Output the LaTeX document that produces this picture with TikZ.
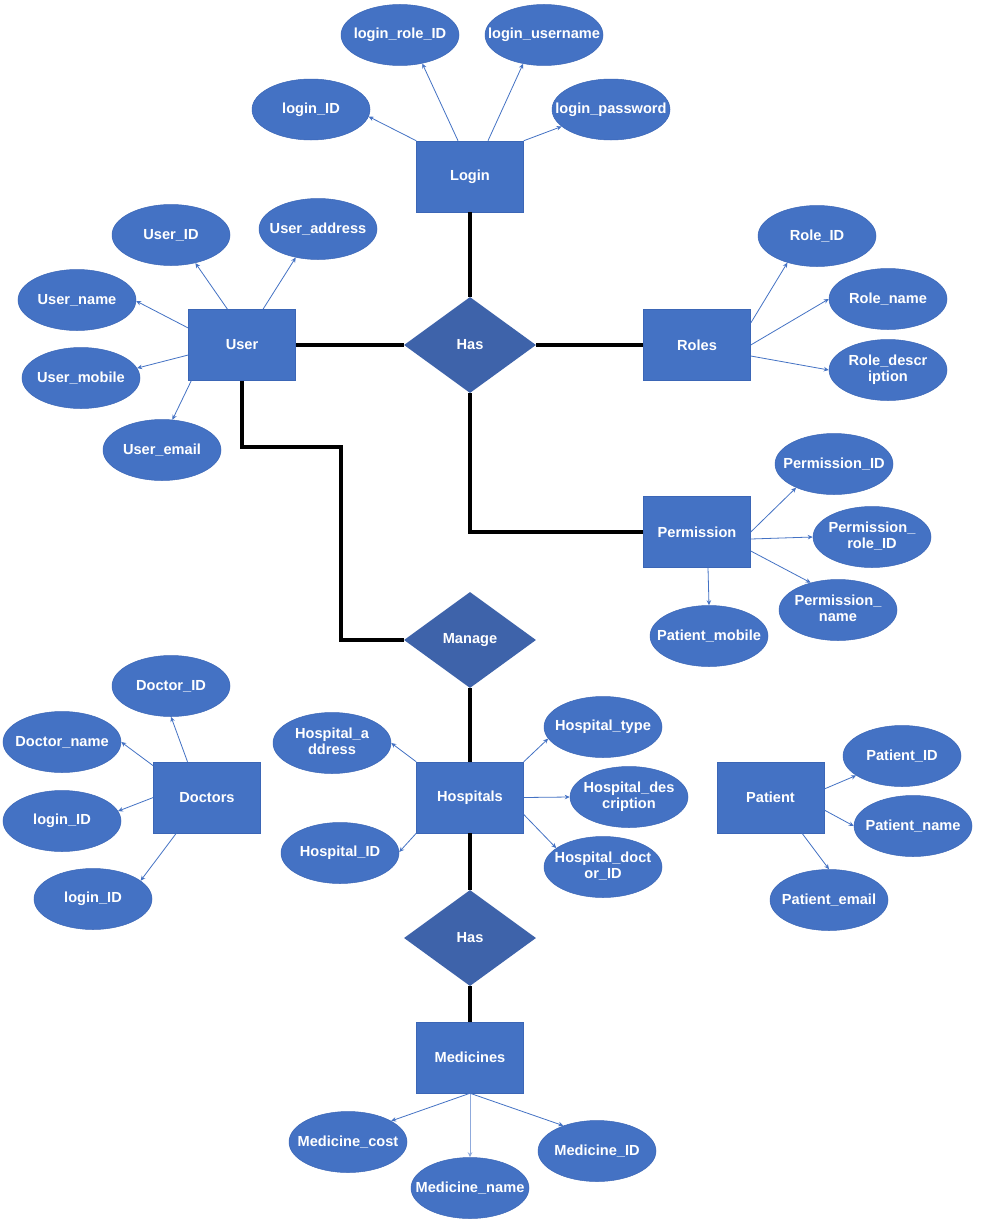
\documentclass[tikz,border=0pt]{standalone}
\usepackage{fontspec}
\setmainfont{Liberation Sans}
\usetikzlibrary{shapes.geometric,arrows.meta}
\definecolor{entcol}{HTML}{4472C4}
\definecolor{relcol}{HTML}{3E63AA}
\definecolor{edgecol}{HTML}{3B66B6}
\newcommand{\oneline}[1]{\makebox[0pt]{#1}}
\newcommand{\twolines}[2]{\makebox[0pt]{\begin{tabular}{@{}c@{}}#1\\#2\end{tabular}}}
\begin{document}
\begin{tikzpicture}[x=1pt,y=-1pt,
  lbl/.style={text=white, font=\bfseries\fontsize{14.6}{16.5}\selectfont},
  entity/.style={lbl, rectangle, fill=entcol, draw=edgecol, line width=0.5pt, minimum width=107pt, minimum height=71pt, inner sep=0pt},
  attr/.style={lbl, ellipse, fill=entcol, draw=edgecol, line width=0.5pt, minimum width=118pt, minimum height=61pt, inner sep=0pt},
  relation/.style={lbl, diamond, fill=relcol, minimum width=132pt, minimum height=96pt, inner sep=0pt},
  link/.style={line width=3.5pt, black},
  attrline/.style={draw=entcol, line width=0.8pt, -{Stealth[length=5pt,width=4.5pt]}}
]
\useasboundingbox[fill=white] (0,0) rectangle (980,1223);

% entities
\node[entity] (login) at (470,176.5) {Login};
\node[entity] (user) at (242,345) {User};
\node[entity] (roles) at (697,345) {Roles};
\node[entity] (perm) at (697,532) {Permission};
\node[entity] (doc) at (207,797.5) {Doctors};
\node[entity] (hosp) at (470,797.5) {Hospitals};
\node[entity] (pat) at (770.5,797.5) {Patient};
\node[entity] (med) at (470,1057.5) {Medicines};

% relations
\node[relation] (has1) at (470,345) {Has};
\node[relation] (manage) at (470,640) {Manage};
\node[relation] (has2) at (470,938) {Has};

% attributes: login
\node[attr] (lid) at (311,109.5) {\oneline{login\_ID}};
\node[attr] (lrole) at (400,35) {\oneline{login\_role\_ID}};
\node[attr] (luser) at (544,35) {\oneline{login\_username}};
\node[attr] (lpass) at (611,109.5) {\oneline{login\_password}};
% user
\node[attr] (uid) at (171,235) {\oneline{User\_ID}};
\node[attr] (uaddr) at (318,229) {\oneline{User\_address}};
\node[attr] (uname) at (77,300) {\oneline{User\_name}};
\node[attr] (umob) at (81,378) {\oneline{User\_mobile}};
\node[attr] (uemail) at (162,450) {\oneline{User\_email}};
% roles
\node[attr] (rid) at (817,236) {\oneline{Role\_ID}};
\node[attr] (rname) at (888,299) {\oneline{Role\_name}};
\node[attr] (rdesc) at (888,370) {\twolines{Role\_descr}{iption}};
% permission
\node[attr] (pid) at (834,464) {\oneline{Permission\_ID}};
\node[attr] (prid) at (872,537) {\twolines{Permission\_}{role\_ID}};
\node[attr] (pname) at (838,610) {\twolines{Permission\_}{name}};
\node[attr] (pmob) at (709,636) {\oneline{Patient\_mobile}};
% doctors
\node[attr] (did) at (171,686) {\oneline{Doctor\_ID}};
\node[attr] (dname) at (62,742) {\oneline{Doctor\_name}};
\node[attr] (dl1) at (62,821) {\oneline{login\_ID}};
\node[attr] (dl2) at (93,899) {\oneline{login\_ID}};
% hospitals
\node[attr] (haddr) at (332,743) {\twolines{Hospital\_a}{ddress}};
\node[attr] (hid) at (340,853) {\oneline{Hospital\_ID}};
\node[attr] (htype) at (603,727) {\oneline{Hospital\_type}};
\node[attr] (hdesc) at (629,797) {\twolines{Hospital\_des}{cription}};
\node[attr] (hdoc) at (603,867) {\twolines{Hospital\_doct}{or\_ID}};
% patient
\node[attr] (ptid) at (902,756) {\oneline{Patient\_ID}};
\node[attr] (ptname) at (913,826) {\oneline{Patient\_name}};
\node[attr] (ptemail) at (829,900) {\oneline{Patient\_email}};
% medicines
\node[attr] (mcost) at (348,1142) {\oneline{Medicine\_cost}};
\node[attr] (mname) at (470,1188) {\oneline{Medicine\_name}};
\node[attr] (mid) at (597,1151) {\oneline{Medicine\_ID}};

% relationship links
\coordinate (bend) at (341,447);
\draw[link] (login.south) -- (has1.north);
\draw[link] (user.east) -- (has1.west);
\draw[link] (has1.east) -- (roles.west);
\draw[link] (has1.south) |- (perm.west);
\draw[link] (user.south) |- (bend) |- (manage.west);
\draw[link] (manage.south) -- (hosp.north);
\draw[link] (hosp.south) -- (has2.north);
\draw[link] (has2.south) -- (med.north);

% attribute arrows
\draw[attrline] (login.north west) -- (lid.-7);
\draw[attrline] ([xshift=-12pt]login.north) -- (lrole.-52);
\draw[attrline] ([xshift=18pt]login.north) -- (luser.-126);
\draw[attrline] (login.north east) -- (lpass.199);

\draw[attrline] ([xshift=-14.5pt]user.north) -- (uid.-49);
\draw[attrline] ([xshift=21pt]user.north) -- (uaddr.232);
\draw[attrline] ([yshift=17pt]user.west) -- (uname.-1);
\draw[attrline] ([yshift=-10pt]user.west) -- (umob.10);
\draw[attrline] ([xshift=3pt]user.south west) -- (uemail.71);

\draw[attrline] ([yshift=22pt]roles.east) -- (rid.222);
\draw[attrline] (roles.east) -- (rname.180);
\draw[attrline] ([yshift=-11pt]roles.east) -- (rdesc.180);

\draw[attrline] (perm.east) -- (pid.212);
\draw[attrline] ([yshift=-7pt]perm.east) -- (prid.180);
\draw[attrline] ([yshift=-19pt]perm.east) -- (pname.135);
\draw[attrline] ([xshift=11pt]perm.south) -- (pmob.90);

\draw[attrline] ([xshift=-19.5pt]doc.north) -- (did.-90);
\draw[attrline] ([yshift=-4pt]doc.north west) -- (dname.0);
\draw[attrline] (doc.west) -- (dl1.10);
\draw[attrline] ([xshift=23pt]doc.south west) -- (dl2.21);

\draw[attrline] (hosp.north west) -- (haddr.0);
\draw[attrline] (hosp.south west) -- (hid.1);
\draw[attrline] (hosp.north east) -- (htype.192);
\draw[attrline] (hosp.east) -- (hdesc.180);
\draw[attrline] ([yshift=-17pt]hosp.east) -- (hdoc.158);

\draw[attrline] ([yshift=8.5pt]pat.east) -- (ptid.203);
\draw[attrline] ([yshift=-12.5pt]pat.east) -- (ptname.180);
\draw[attrline] ([xshift=31.5pt]pat.south) -- (ptemail.90);

\draw[attrline] (med.south) -- (mcost.26);
\draw[attrline, draw=entcol!60] (med.south) -- (mname.90);
\draw[attrline] (med.south) -- (mid.143);
\end{tikzpicture}
\end{document}
